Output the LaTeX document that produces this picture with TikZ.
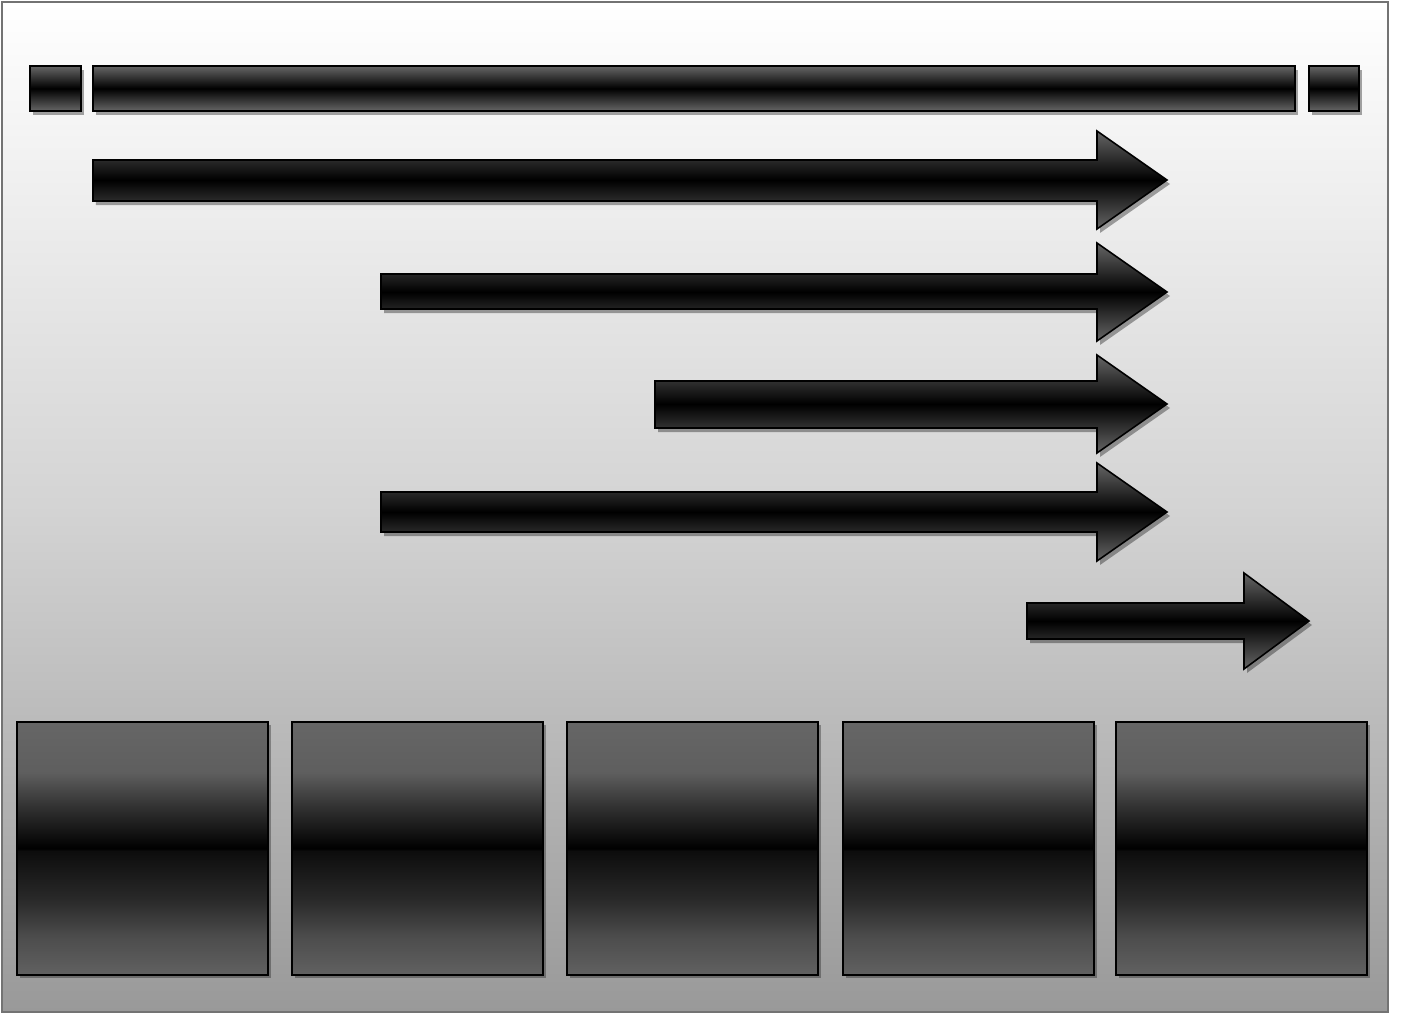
\documentclass[tikz,border=0pt]{standalone}
\usepackage{tikz}
\usetikzlibrary{shadows}

\pgfdeclareverticalshading{tileshade}{100bp}{color(0bp)=(black!62); color(25bp)=(black!62);
  color(32.5bp)=(black!70); color(40bp)=(black!84); color(49.5bp)=(black!95); color(50bp)=(black);
  color(52.5bp)=(black!94); color(58.5bp)=(black!80); color(65bp)=(black!63); color(75bp)=(black!60);
  color(100bp)=(black!60)}

\begin{document}
\begin{tikzpicture}[x=0.02cm,y=-0.02cm,
  backdrop/.style={draw=black!55,line width=1.2pt,top color=white,bottom color=black!40,middle color=black!17},
  bar/.style={draw=black,line width=1.1pt,top color=black!60,bottom color=black!60,middle color=black,
    drop shadow={shadow xshift=0.06cm,shadow yshift=-0.08cm,fill=black,opacity=0.35}},
  tile/.style={draw=black,line width=1.1pt,shading=tileshade,
    drop shadow={shadow xshift=0.06cm,shadow yshift=-0.06cm,fill=black,opacity=0.3}},
  flow/.style={draw=black,line width=0.9pt,top color=black!60,bottom color=black!60,middle color=black,
    drop shadow={shadow xshift=0.06cm,shadow yshift=-0.08cm,fill=black,opacity=0.35}}]
  \useasboundingbox (0,0) rectangle (1418,1014);
  \draw[backdrop] (2,2) rectangle (1388,1012);

  \draw[bar] (30,66) rectangle (81,111);
  \draw[bar] (93,66) rectangle (1295,111);
  \draw[bar] (1309,66) rectangle (1359,111);

  \foreach \xs/\st/\sb/\hd/\hb/\xh/\xt in
    {93/160/201/131/229/1097/1167,
     381/274/309/243/341/1097/1167,
     655/381/428/355/453/1097/1167,
     381/492/532/463/561/1097/1167,
     1027/603/639/573/669/1244/1309}
    \draw[flow] (\xs,\st) -- (\xh,\st) -- (\xh,\hd) -- (\xt,{(\hd+\hb)/2})
      -- (\xh,\hb) -- (\xh,\sb) -- (\xs,\sb) -- cycle;

  \foreach \x in {17,292,567,843,1116}
    \draw[tile] (\x,722) rectangle ++(251,253);
\end{tikzpicture}
\end{document}
